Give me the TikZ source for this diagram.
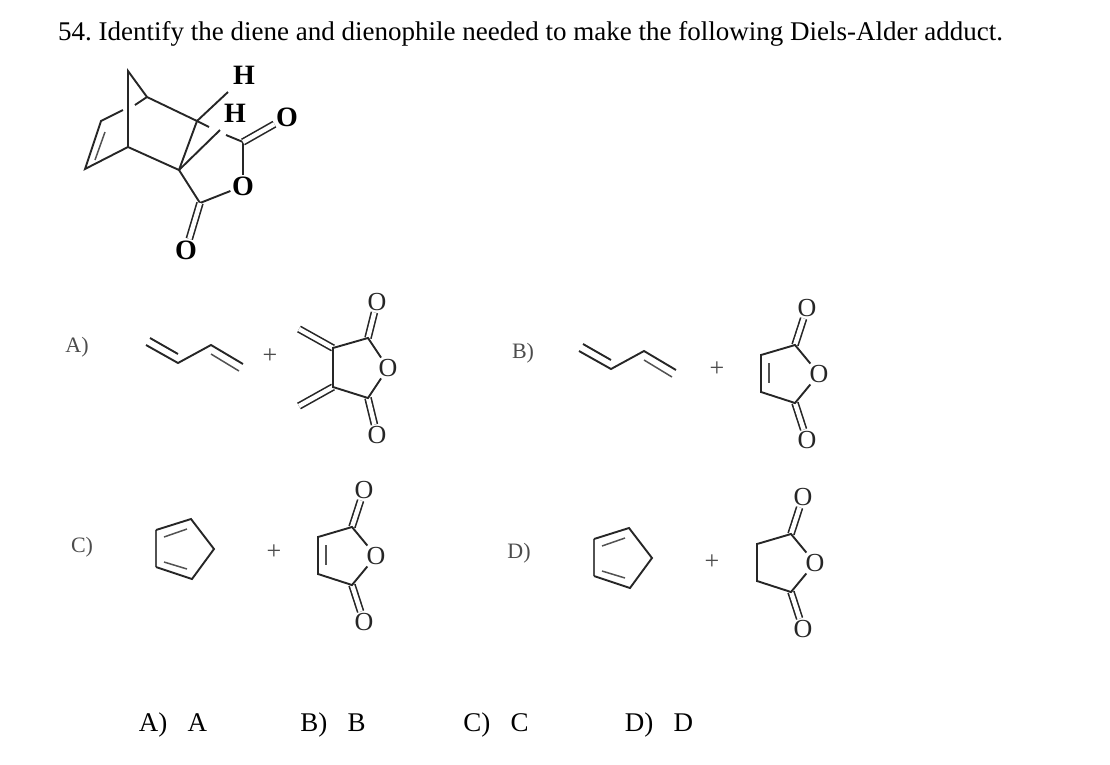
\documentclass[tikz,border=0pt]{standalone}
\usepackage{fontspec}
\setmainfont{Liberation Serif}
\usepackage{xcolor}
\frenchspacing
\colorlet{bondcolor}{black!85}
\colorlet{labelcolor}{black!70}
\tikzstyle{bond}=[line width=1.9pt,bondcolor,line join=miter]
\tikzstyle{thin bond}=[line width=1.5pt,bondcolor!80]
\tikzstyle{dbl}=[draw=bondcolor,line width=1.6pt,double=white,double distance=4.4pt]
\tikzstyle{atom}=[font=\fontsize{26}{26}\selectfont,inner sep=1.5pt,bondcolor]
\tikzstyle{boldatom}=[font=\fontsize{28}{28}\selectfont\bfseries,inner sep=1.5pt]
\tikzstyle{optlabel}=[font=\fontsize{22}{22}\selectfont,labelcolor,inner sep=0pt]
\tikzstyle{plus}=[font=\fontsize{26}{26}\selectfont,labelcolor,inner sep=0pt]
\tikzstyle{answer}=[font=\fontsize{27}{27}\selectfont,inner sep=0pt]
% anhydride half, ring oxygen at the origin of the scope
\newcommand\anhydride{%
	\node[atom] (ro) at (0,0) {O};
	\node[atom] (ot) at (-12,-66) {O};
	\node[atom] (ob) at (-12,66) {O};
	\coordinate (ct) at (-24,-29);
	\coordinate (cb) at (-24,29);
	\coordinate (at) at (-58,-19);
	\coordinate (ab) at (-58,18);
	\draw[dbl] (ct) -- (ot);
	\draw[dbl] (cb) -- (ob);
	\draw[bond] (ro) -- (ct) -- (at) -- (ab) -- (cb) -- (ro);
}
\newcommand\ringdouble{%
	\coordinate (it) at (-50,-11);
	\coordinate (ib) at (-50,9);
	\draw[thin bond] (it) -- (ib);
}
% butadiene, first atom at the origin of the scope
\newcommand\butadiene{%
	\coordinate (d1) at (0,0);
	\coordinate (d2) at (32,18);
	\coordinate (d3) at (65,0);
	\coordinate (d4) at (97,19);
	\coordinate (e1) at (4,-7);
	\coordinate (e2) at (32,9);
	\coordinate (e3) at (65,9);
	\coordinate (e4) at (93,26);
	\draw[bond] (d1) -- (d2) -- (d3) -- (d4);
	\draw[bond] (e1) -- (e2);
	\draw[thin bond] (e3) -- (e4);
}
% cyclopentadiene, upper left atom at the origin of the scope
\newcommand\cyclopentadiene{%
	\coordinate (p1) at (0,0);
	\coordinate (p2) at (35,-11);
	\coordinate (p3) at (58,19);
	\coordinate (p4) at (36,49);
	\coordinate (p5) at (0,37);
	\coordinate (q1) at (8,7);
	\coordinate (q2) at (31,-1);
	\coordinate (q3) at (8,32);
	\coordinate (q4) at (31,39);
	\draw[thin bond] (p5) -- (p1);
	\draw[bond] (p1) -- (p2) -- (p3) -- (p4) -- (p5);
	\draw[thin bond] (q1) -- (q2);
	\draw[thin bond] (q3) -- (q4);
}
\begin{document}
\begin{tikzpicture}[x=1pt,y=-1pt]
	\useasboundingbox (0,0) rectangle (1110,764);
	\node[answer,anchor=base west] (question) at (58,40) {54. Identify the diene and dienophile needed to make the following Diels-Alder adduct.};

	% the adduct
	\coordinate (top) at (128,71);
	\coordinate (br) at (147,97);
	\coordinate (cr) at (197,121);
	\coordinate (cj) at (179,170);
	\coordinate (bl) at (128,147);
	\coordinate (vt) at (101,121);
	\coordinate (vb) at (85,169);
	\coordinate (vi) at (105,132);
	\coordinate (vj) at (95,160);
	\coordinate (gl) at (123,110);
	\coordinate (gr) at (135,105);
	\coordinate (hs) at (209,127);
	\coordinate (hj) at (220,130);
	\coordinate (hc) at (226,135);
	\coordinate (hk) at (228,92);
	\coordinate (cc) at (243,142);
	\coordinate (cd) at (200,203);
	\node[boldatom] (h1) at (244,75) {H};
	\node[boldatom] (h2) at (235,113) {H};
	\node[boldatom] (o1) at (287,117) {O};
	\node[boldatom] (o2) at (243,186) {O};
	\node[boldatom] (o3) at (186,250) {O};
	\draw[bond] (bl) -- (top) -- (br) -- (cr) -- (cj) -- (bl) -- (vb) -- (vt) -- (gl);
	\draw[bond] (gr) -- (br);
	\draw[thin bond] (vi) -- (vj);
	\draw[bond] (cr) -- (hk);
	\draw[bond] (cr) -- (hs);
	\draw[bond] (cj) -- (hj);
	\draw[bond] (hc) -- (cc) -- (o2) -- (cd) -- (cj);
	\draw[dbl] (cc) -- (o1);
	\draw[dbl] (cd) -- (o3);

	% A)
	\node[optlabel] (la) at (77,347) {A)};
	\begin{scope}[shift={(146,345)},name prefix=a-]
		\butadiene
	\end{scope}
	\node[plus] (pa) at (270,356) {+};
	\begin{scope}[shift={(388,368)},name prefix=aa-]
		\node[atom] (ro) at (0,0) {O};
		\node[atom] (ot) at (-11,-66) {O};
		\node[atom] (ob) at (-11,67) {O};
		\coordinate (ct) at (-20,-30);
		\coordinate (cb) at (-20,30);
		\coordinate (at) at (-55,-20);
		\coordinate (ab) at (-55,19);
		\coordinate (mt) at (-89,-39);
		\coordinate (mb) at (-89,38);
		\draw[dbl] (ct) -- (ot);
		\draw[dbl] (cb) -- (ob);
		\draw[dbl] (at) -- (mt);
		\draw[dbl] (ab) -- (mb);
		\draw[bond] (ro) -- (ct) -- (at) -- (ab) -- (cb) -- (ro);
	\end{scope}

	% B)
	\node[optlabel] (lb) at (523,353) {B)};
	\begin{scope}[shift={(579,351)},name prefix=b-]
		\butadiene
	\end{scope}
	\node[plus] (pb) at (717,369) {+};
	\begin{scope}[shift={(819,374)},name prefix=bb-]
		\anhydride
		\ringdouble
	\end{scope}

	% C)
	\node[optlabel] (lc) at (82,547) {C)};
	\begin{scope}[shift={(156,530)},name prefix=c-]
		\cyclopentadiene
	\end{scope}
	\node[plus] (pc) at (274,552) {+};
	\begin{scope}[shift={(376,556)},name prefix=cc-]
		\anhydride
		\ringdouble
	\end{scope}

	% D)
	\node[optlabel] (ld) at (519,553) {D)};
	\begin{scope}[shift={(594,539)},name prefix=d-]
		\cyclopentadiene
	\end{scope}
	\node[plus] (pd) at (712,562) {+};
	\begin{scope}[shift={(815,563)},name prefix=dd-]
		\anhydride
	\end{scope}

	% answers
	\node[answer] (ansa) at (173,725) {A)\hspace{.75em}A};
	\node[answer] (ansb) at (333,725) {B)\hspace{.75em}B};
	\node[answer] (ansc) at (496,725) {C)\hspace{.75em}C};
	\node[answer] (ansd) at (659,725) {D)\hspace{.75em}D};
\end{tikzpicture}
\end{document}
